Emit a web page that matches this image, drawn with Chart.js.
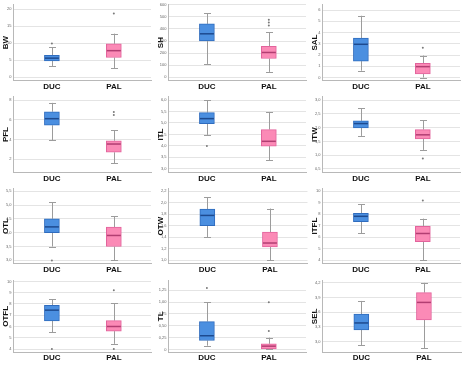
<!DOCTYPE html>
<html>
<head>
<meta charset="utf-8">
<script src="https://cdn.jsdelivr.net/npm/chart.js@4.4.1/dist/chart.umd.min.js"></script>
<style>
  html, body { margin: 0; padding: 0; background: #fff; overflow: hidden; }
  #wrap { position: relative; width: 474px; height: 368px; }
  canvas { position: absolute; }
</style>
</head>
<body>
<div id="wrap"></div>
<script>
/* Data */
const categories = ['DUC', 'PAL'];
const variables = ['BW', 'SH', 'SAL', 'PFL', 'ITL', 'ITW', 'OTL', 'OTW', 'ITFL', 'OTFL', 'TL', 'SEL'];

// [lower whisker, Q1, median, Q3, upper whisker]
const ducStats = [
  [3.3, 4.8, 5.6, 6.4, 8.8],
  [110, 300, 360, 442, 532],
  [0.61, 1.46, 2.96, 3.51, 5.5],
  [3.94, 5.45, 6.12, 6.83, 7.73],
  [4.48, 4.97, 5.19, 5.45, 6.0],
  [1.70, 1.99, 2.15, 2.25, 2.71],
  [3.5, 4.0, 4.21, 4.5, 5.1],
  [1.40, 1.60, 1.78, 1.89, 2.10],
  [6.33, 7.36, 7.82, 8.08, 8.86],
  [5.48, 6.49, 7.45, 7.88, 8.43],
  [0.08, 0.19, 0.29, 0.59, 1.0],
  [2.93, 3.24, 3.38, 3.56, 3.83]
];
const palStats = [
  [2.6, 5.8, 7.8, 9.8, 12.8],
  [44, 155, 205, 256, 374],
  [0, 0.32, 0.97, 1.26, 1.96],
  [1.59, 2.70, 3.54, 3.87, 4.95],
  [3.37, 3.99, 4.2, 4.71, 5.48],
  [1.19, 1.59, 1.74, 1.93, 2.27],
  [3.0, 3.5, 3.9, 4.2, 4.59],
  [1.0, 1.23, 1.30, 1.49, 1.90],
  [4.0, 5.61, 6.33, 6.96, 7.62],
  [4.46, 5.59, 6.0, 6.52, 8.06],
  [0, 0, 0.07, 0.12, 0.25],
  [2.86, 3.44, 3.80, 4.0, 4.2]
];
const ducOutliers = [[9.9], [], [], [], [3.99], [], [3.0], [], [], [4.0], [1.3], []];
const palOutliers = [[18.7], [428, 453, 477], [2.66], [6.49, 6.79], [], [0.88], [], [], [9.2], [4.0, 9.22], [0.39, 1.0], []];

const yTicks = [
  ['0', '5', '10', '15', '20'],
  ['0', '100', '200', '300', '400', '500', '600'],
  ['0', '1', '2', '3', '4', '5', '6'],
  ['2', '4', '6', '8'],
  ['3,0', '3,5', '4,0', '4,5', '5,0', '5,5', '6,0'],
  ['0,5', '1,0', '1,5', '2,0', '2,5', '3,0'],
  ['3,0', '3,5', '4,0', '4,5', '5,0', '5,5'],
  ['1,0', '1,2', '1,4', '1,6', '1,8', '2,0', '2,2'],
  ['4', '5', '6', '7', '8', '9', '10'],
  ['4', '5', '6', '7', '8', '9', '10'],
  ['0', '0,25', '0,50', '0,75', '1,00', '1,25'],
  ['3,0', '3,3', '3,6', '3,9', '4,2']
];
const yRange = [
  [-1.06, 21.4], [-30, 604], [-0.29, 6.51],
  [0.62, 8.39], [2.83, 6.16], [0.36, 3.14],
  [2.88, 5.6], [0.94, 2.25], [3.71, 10.24],
  [3.71, 10.09], [-0.06, 1.46], [2.78, 4.25]
];

/* layout */
const colLeft = [0, 154.5, 309];
const rowTop = [0, 92, 184, 276];
const padTop = [3.5, 3.5, 4, 3];
const padBottom = [0, 0.1, 1.1, 4.5];
const fills = ['#4b8fe0', '#fb8ab6'];
const borders = ['#2f6cbe', '#e2639c'];
const medians = ['#1d4a8f', '#b23e72'];

Chart.defaults.font.family = '"Liberation Sans", Arial, sans-serif';

// whiskers, caps and median lines, placed with the chart's own scales
const boxWhiskers = {
  id: 'boxWhiskers',
  beforeDatasetsDraw(chart, args, opts) {
    const {ctx, scales: {x, y}} = chart;
    ctx.save();
    ctx.strokeStyle = '#9c9c9c';
    ctx.lineWidth = 1;
    opts.stats.forEach((s, j) => {
      const px = Math.round(x.getPixelForValue(j)) + 0.5;
      ctx.beginPath();
      ctx.moveTo(px, y.getPixelForValue(s[0]));
      ctx.lineTo(px, y.getPixelForValue(s[1]));
      ctx.moveTo(px, y.getPixelForValue(s[3]));
      ctx.lineTo(px, y.getPixelForValue(s[4]));
      [s[0], s[4]].forEach(v => {
        const py = Math.round(y.getPixelForValue(v)) + 0.5;
        ctx.moveTo(px - 3.5, py);
        ctx.lineTo(px + 3.5, py);
      });
      ctx.stroke();
    });
    ctx.restore();
  },
  afterDatasetsDraw(chart, args, opts) {
    const {ctx, scales: {x, y}} = chart;
    ctx.save();
    ctx.lineWidth = 1.5;
    opts.stats.forEach((s, j) => {
      const px = x.getPixelForValue(j);
      const py = y.getPixelForValue(s[2]);
      ctx.strokeStyle = medians[j];
      ctx.beginPath();
      ctx.moveTo(px - 7, py);
      ctx.lineTo(px + 7, py);
      ctx.stroke();
    });
    ctx.restore();
  }
};

const wrap = document.getElementById('wrap');

variables.forEach(function(name, i){
  const row = Math.floor(i / 3), col = i % 3;
  const canvas = document.createElement('canvas');
  canvas.width = 155;
  canvas.height = 92;
  canvas.style.left = colLeft[col] + 'px';
  canvas.style.top = rowTop[row] + 'px';
  wrap.appendChild(canvas);

  const stats = [ducStats[i], palStats[i]];
  const labels = yTicks[i];
  const outliers = [];
  ducOutliers[i].forEach(v => outliers.push({x: 0, y: v}));
  palOutliers[i].forEach(v => outliers.push({x: 1, y: v}));

  new Chart(canvas, {
    type: 'bar',
    plugins: [boxWhiskers],
    data: {
      datasets: [{
        data: stats.map((s, j) => ({x: j, y: [s[1], s[3]]})),
        backgroundColor: fills,
        borderColor: borders,
        borderWidth: 1,
        borderSkipped: false,
        barThickness: 15
      }, {
        type: 'scatter',
        data: outliers,
        pointRadius: 1,
        pointBackgroundColor: '#7a7a7a',
        pointBorderWidth: 0,
        showLine: false
      }]
    },
    options: {
      responsive: false,
      animation: false,
      events: [],
      layout: { padding: { top: padTop[row], bottom: padBottom[row], left: 0, right: 2.5 } },
      plugins: {
        legend: { display: false },
        tooltip: { enabled: false },
        boxWhiskers: { stats: stats }
      },
      scales: {
        x: {
          type: 'linear',
          min: -0.62,
          max: 1.6,
          offset: false,
          grid: { display: false, drawTicks: false },
          border: { color: '#b8b8b8' },
          afterBuildTicks: s => { s.ticks = [{value: 0}, {value: 1}]; },
          ticks: {
            autoSkip: false,
            padding: 1.2,
            color: '#111',
            font: { size: 8, weight: 'bold', lineHeight: 1.1 },
            callback: (v, k) => categories[k]
          }
        },
        y: {
          min: yRange[i][0],
          max: yRange[i][1],
          grid: { color: '#e4e4e4', drawTicks: false },
          border: { color: '#b8b8b8' },
          afterBuildTicks: s => { s.ticks = labels.map(t => ({value: parseFloat(t.replace(',', '.'))})); },
          afterFit: s => { s.width = 13.5; },
          ticks: {
            autoSkip: false,
            padding: 2,
            color: '#666',
            font: { size: 4 },
            callback: (v, k) => labels[k]
          },
          title: {
            display: true,
            text: name,
            color: '#111',
            padding: { top: 1, bottom: 0 },
            font: { size: 8, weight: 'bold' }
          }
        }
      }
    }
  });
});
</script>
</body>
</html>
